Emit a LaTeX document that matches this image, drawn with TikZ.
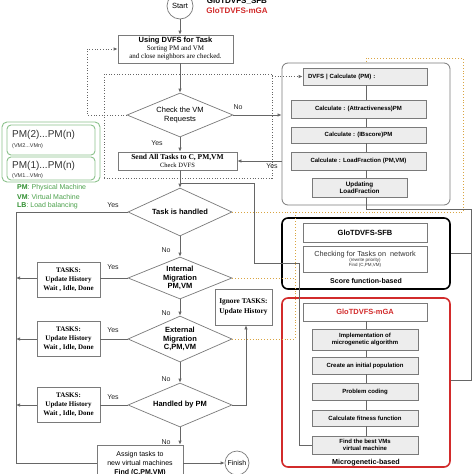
\documentclass[tikz,border=0pt]{standalone}
\usepackage{fontspec}
\setmainfont{Liberation Sans}
\newfontfamily\tms{Liberation Serif}
\usetikzlibrary{shapes.geometric,arrows.meta}
\definecolor{linec}{HTML}{666666}
\definecolor{boxc}{HTML}{7A7A7A}
\definecolor{gfill}{HTML}{EDEDED}
\definecolor{redc}{HTML}{D22B2B}
\definecolor{grn}{HTML}{2F8F2F}
\definecolor{grnt}{HTML}{4CA24C}
\definecolor{grnl}{HTML}{8CC28C}
\definecolor{orng}{HTML}{D9A441}
\newcommand{\fsz}[2]{\fontsize{#1}{#2}\selectfont}
\begin{document}
\begin{tikzpicture}[x=1pt,y=-1pt,
 conn/.style={draw=linec, line width=0.7pt},
 arr/.style={conn, -{Latex[length=4pt,width=3.4pt]}},
 gdots/.style={draw=linec, line width=0.7pt, dotted},
 odots/.style={draw=orng, line width=0.9pt, dotted},
 pbox/.style={draw=boxc, line width=0.7pt, fill=white, rectangle, inner sep=0pt, align=center},
 gbox/.style={pbox, fill=gfill, font=\fsz{6}{7.5}\bfseries},
 dec/.style={diamond, aspect=2.4, draw=boxc, line width=0.7pt, fill=white, inner sep=0pt, align=center, font=\fsz{7.5}{8.8}\bfseries},
 lbl/.style={font=\fsz{7}{8}, inner sep=0pt, text=black!85},
 term/.style={circle, draw=boxc, line width=0.7pt, fill=white, inner sep=0pt},
 panel/.style={rectangle, rounded corners=6pt, inner sep=0pt},
 legt/.style={anchor=west, inner sep=0pt, font=\fsz{7}{8}, text=grnt}
]
\clip (0,0) rectangle (474,474);
\fill[white] (0,0) rectangle (474,474);

% titles
\node[font=\fsz{8}{9}\bfseries, inner sep=0pt] (t1) at (237,1) {GloTDVFS\_SFB};
\node[font=\fsz{8}{9}\bfseries, text=redc, inner sep=0pt] (t2) at (237,10.5) {GloTDVFS-mGA};

% right panels
\node[panel, draw=boxc, line width=0.8pt, minimum width=168, minimum height=142] (dvfs) at (366,134) {};
\node[panel, draw=black, line width=1.6pt, minimum width=168, minimum height=71] (sfb) at (366,253.5) {};
\node[panel, draw=redc, line width=1.6pt, minimum width=168, minimum height=169] (mga) at (366,382.5) {};

% dotted rectangle around VM check
\node[rectangle, draw=linec, dotted, line width=0.7pt, minimum width=168, minimum height=104, inner sep=0pt] (dbox) at (188,126) {};

% main flow
\node[term, minimum size=26, font=\fsz{7.5}{9}] (start) at (180,6) {Start};
\node[pbox, minimum width=115, minimum height=28, font=\tms\fsz{7}{8}] (using) at (175.5,49)
 {\fontspec{Liberation Sans}\fsz{7.5}{8}\bfseries Using DVFS for Task\\Sorting PM and VM\\and close neighbors are checked.};
\node[dec, font=\fsz{7.5}{9}, minimum width=106, minimum height=44] (check) at (180,115) {Check the VM\\Requests};
\node[pbox, minimum width=119, minimum height=18, font=\tms\fsz{6.5}{8}] (send) at (177.5,161)
 {\bfseries\fsz{7.5}{8.5}Send All Tasks to C, PM,VM\\Check DVFS};
\node[dec, minimum width=104, minimum height=48] (handled) at (180,212) {Task is handled};
\node[dec, minimum width=104, minimum height=42] (internal) at (180,278) {Internal\\Migration\\PM,VM};
\node[dec, minimum width=104, minimum height=46] (external) at (180,339) {External\\Migration\\C,PM,VM};
\node[dec, minimum width=104, minimum height=44] (hpm) at (180,405) {Handled by PM};

\node[pbox, minimum width=63, minimum height=35, font=\tms\bfseries\fsz{7}{9.2}] (tasks1) at (68.5,280) {TASKS:\\Update History\\Wait , Idle, Done};
\node[pbox, minimum width=63, minimum height=35, font=\tms\bfseries\fsz{7}{9.2}] (tasks2) at (68.5,339) {TASKS:\\Update History\\Wait , Idle, Done};
\node[pbox, minimum width=63, minimum height=35, font=\tms\bfseries\fsz{7}{9.2}] (tasks3) at (68.5,405) {TASKS:\\Update History\\Wait , Idle, Done};
\node[pbox, minimum width=57, minimum height=36, font=\tms\bfseries\fsz{7.3}{10}] (ignore) at (243.5,307) {Ignore TASKS:\\Update History};
\node[pbox, minimum width=86, minimum height=37, font=\fsz{7}{9}] (assign) at (140,463.5) {Assign tasks to\\new virtual machines\\\bfseries Find (C,PM,VM)};
\node[term, minimum size=24, font=\fsz{7}{8}] (finish) at (237,463) {Finish};

% DVFS panel contents
\node[gbox, minimum width=124, minimum height=17, text width=114, align=left] (hdr) at (365,76.5) {DVFS | Calculate (PM) :};
\node[gbox, minimum width=135, minimum height=18] (calc1) at (358.5,109) {Calculate : (Attractiveness)PM};
\node[gbox, minimum width=135, minimum height=16] (calc2) at (358.5,135) {Calculate : (IBscore)PM};
\node[gbox, minimum width=135, minimum height=18] (calc3) at (358.5,161) {Calculate : LoadFraction (PM,VM)};
\node[gbox, minimum width=95, minimum height=19, font=\fsz{6.3}{7.3}\bfseries] (upd) at (359.5,187.5) {Updating\\LoadFraction};

% SFB panel contents
\node[pbox, minimum width=124, minimum height=19, font=\fsz{7.5}{9}\bfseries] (sfbt) at (365,232.5) {GloTDVFS-SFB};
\node[pbox, minimum width=124, minimum height=26, font=\fsz{4.5}{5}, text=black!80] (chk) at (365,259)
 {\fsz{7.3}{8.5}Checking for Tasks on\ \ network\\(rewrite priority)\\Find (C,PM,VM)};
\node[inner sep=0pt, font=\fsz{7}{8}\bfseries] (sfbl) at (366,280.5) {Score function-based};

% mGA panel contents
\node[pbox, minimum width=124, minimum height=18, font=\fsz{7.5}{9}\bfseries, text=redc] (mgat) at (365,312) {GloTDVFS-mGA};
\node[gbox, minimum width=106, minimum height=21] (impl) at (365,339.5) {Implementation of\\microgenetic algorithm};
\node[gbox, minimum width=106, minimum height=17] (create) at (365,365.5) {Create an initial population};
\node[gbox, minimum width=106, minimum height=17] (coding) at (365,391.5) {Problem coding};
\node[gbox, minimum width=106, minimum height=16] (fit) at (365,418) {Calculate fitness function};
\node[gbox, minimum width=106, minimum height=18] (find) at (365,445) {Find the best VMs\\virtual machine};
\node[inner sep=0pt, font=\fsz{7.2}{8}\bfseries] (mgal) at (366,462.5) {Microgenetic-based};

% legend
\node[draw=grnl, rounded corners=5pt, line width=0.9pt, minimum width=98, minimum height=60, inner sep=0pt] (leg) at (51,152) {};
\node[draw=grnl, rounded corners=4pt, line width=0.9pt, minimum width=88, minimum height=30, inner sep=0pt] (pm2) at (51,140) {};
\node[draw=grnl, rounded corners=4pt, line width=0.9pt, minimum width=88, minimum height=23, inner sep=0pt] (pm1) at (51,168.5) {};
\node[anchor=west, inner sep=0pt, font=\fsz{10}{11}, text=black!80] (pm2a) at (12,135) {PM(2)...PM(n)};
\node[anchor=west, inner sep=0pt, font=\fsz{5.5}{6}, text=black!80] (pm2b) at (12,146) {(VM2...VMn)};
\node[anchor=west, inner sep=0pt, font=\fsz{10}{11}, text=black!80] (pm1a) at (12,166) {PM(1)...PM(n)};
\node[anchor=west, inner sep=0pt, font=\fsz{5.5}{6}, text=black!80] (pm1b) at (12,176) {(VM1...VMn)};
\node[legt] (lg1) at (17,188) {\textcolor{grn}{\bfseries PM}: Physical Machine};
\node[legt] (lg2) at (17,197) {\textcolor{grn}{\bfseries VM}: Virtual Machine};
\node[legt] (lg3) at (17,206) {\textcolor{grn}{\bfseries LB}: Load balancing};

% coordinates
\coordinate (cl1) at (87,115);
\coordinate (cl2) at (87,49);
\coordinate (lt) at (16,212);
\coordinate (lb) at (16,463.5);
\coordinate (ig) at (246,405);
\coordinate (bus1) at (366,209);
\coordinate (bus2) at (471,209);
\coordinate (bus3) at (471,380);
\coordinate (bus4) at (471,253);
\coordinate (lp1) at (299,445);
\coordinate (lp2) at (299,263);
\coordinate (lp3) at (254,263);
\coordinate (lp4) at (254,183);
\coordinate (lp5) at (180,183);
\coordinate (o1) at (295,212);
\coordinate (o2) at (463,212);
\coordinate (o3) at (463,58);
\coordinate (o4) at (366,58);
\coordinate (o5) at (295,339);

% orange dotted links
\draw[odots] (handled.east) -- (o2) -- (o3) -- (o4) -- (o4 |- dvfs.north);
\draw[odots] (internal.east) -- (internal.east -| o1);
\draw[odots] (external.east) -- (o5) -- (o1);

% main connectors
\draw[arr] (start.south) -- (start.south |- using.north);
\draw[arr] (start.south |- using.south) -- (check.north);
\draw[arr] (check.south) -- (check.south |- send.north);
\draw[arr] (check.south |- send.south) -- (handled.north);
\draw[arr] (handled.south) -- (internal.north);
\draw[arr] (internal.south) -- (external.north);
\draw[arr] (external.south) -- (hpm.north);
\draw[arr] (hpm.south) -- (hpm.south |- assign.north);
\draw[arr] (assign.east |- finish.west) -- (finish.west);
\draw[gdots, -{Latex[length=4pt,width=3.4pt]}] (check.west) -- (cl1) -- (cl2) -- (using.west |- cl2);
\draw[arr] (check.east) -- (check.east -| dvfs.west);
\draw[arr] (dvfs.west |- send.east) -- (send.east);
\draw[gdots, -{Latex[length=4pt,width=3.4pt]}] (dbox.north east |- hdr.west) -- (hdr.west);

\draw[conn] (handled.west) -- (lt) -- (lb) -- (assign.west |- lb);
\draw[conn] (internal.west) -- (tasks1.east |- internal.west);
\draw[conn] (external.west) -- (tasks2.east |- external.west);
\draw[conn] (hpm.west) -- (tasks3.east |- hpm.west);
\draw[arr] (tasks1.west |- internal.west) -- (lt |- internal.west);
\draw[arr] (tasks2.west |- external.west) -- (lt |- external.west);
\draw[arr] (tasks3.west |- hpm.west) -- (lt |- hpm.west);
\draw[arr] (hpm.east) -- (ig) -- (ig |- ignore.south);

% panel connectors
\draw[conn] (hdr.south -| bus1) -- (calc1.north -| bus1);
\draw[conn] (calc1.south -| bus1) -- (calc2.north -| bus1);
\draw[conn] (calc2.south -| bus1) -- (calc3.north -| bus1);
\draw[conn] (calc3.south -| bus1) -- (upd.north -| bus1);
\draw[conn] (upd.south -| bus1) -- (bus1) -- (bus2) -- (bus3) -- (bus3 -| mga.east);
\draw[conn] (bus4) -- (bus4 -| sfb.east);
\draw[conn] (mgat.south -| bus1) -- (impl.north -| bus1);
\draw[conn] (impl.south -| bus1) -- (create.north -| bus1);
\draw[conn] (create.south -| bus1) -- (coding.north -| bus1);
\draw[conn] (coding.south -| bus1) -- (fit.north -| bus1);
\draw[conn] (fit.south -| bus1) -- (find.north -| bus1);
\draw[conn] (find.west) -- (lp1) -- (lp2) -- (lp3) -- (lp4) -- (lp5);

% labels
\node[lbl] (y1) at (157,143) {Yes};
\node[lbl] (n1) at (238,107) {No};
\node[lbl] (y2) at (272,166.5) {Yes};
\node[lbl] (y3) at (113,205) {Yes};
\node[lbl] (n2) at (166,250) {No};
\node[lbl] (y4) at (113,267) {Yes};
\node[lbl] (n3) at (166,313) {No};
\node[lbl] (y5) at (113,330) {Yes};
\node[lbl] (n4) at (166,379) {No};
\node[lbl] (y6) at (113,397) {Yes};
\node[lbl] (n5) at (166,442) {No};
\end{tikzpicture}
\end{document}
